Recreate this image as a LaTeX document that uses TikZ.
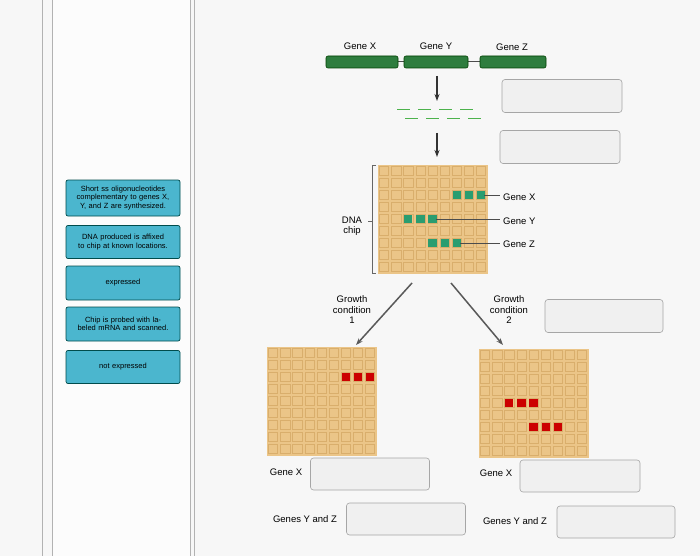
\documentclass[tikz,border=0pt]{standalone}
\usepackage{fontspec}
\setmainfont{Liberation Sans}
\usetikzlibrary{arrows.meta}
\definecolor{tilec}{HTML}{4BB6CE}
\definecolor{chipc}{HTML}{EBC588}
\definecolor{cellc}{HTML}{D9AE6C}
\definecolor{spotg}{HTML}{2A9D70}
\definecolor{genec}{HTML}{2E7D3E}
\newcommand{\mychip}[2]{%
  \fill[chipc] (#1,#2) rectangle ++(110,109);
  \foreach \i in {0,...,8}{\foreach \j in {0,...,8}{
    \draw[cellc,line width=0.6pt] ({#1+1.5+\i*12.1},{#2+1.5+\j*12.0}) rectangle ++(9.2,9.2);}}
}
\newcommand{\spot}[5]{\foreach \i in {0,1,2}{\fill[#5] ({#1+2+(#3+\i)*12.1},{#2+2+#4*12.0}) rectangle ++(8.2,8.2);}}
\begin{document}
\begin{tikzpicture}[x=1pt,y=-1pt,
  tb/.style={draw=teal!60!black,fill=tilec,rounded corners=2pt,line width=0.7pt,align=center,font=\fontsize{7.5}{8.5}\selectfont,text width=112pt,inner sep=1pt},
  gb/.style={draw=gray!70,fill=gray!12,rounded corners=3pt,line width=0.6pt},
  lab/.style={font=\fontsize{9.5}{10.5}\selectfont,align=center,inner sep=0pt},
  gene/.style={draw=green!25!black,fill=genec,line width=0.6pt,rounded corners=2pt},
  arr/.style={-{Stealth[length=7pt,width=5pt]},line width=1.5pt,draw=black!80}]
\fill[gray!6] (0,0) rectangle (700,556);
\useasboundingbox (0,0) rectangle (700,556);
\fill[gray!2] (52,0) rectangle (190,556);
\draw[gray!60] (42,0)--(42,556) (52,0)--(52,556) (190,0)--(190,556) (194,0)--(194,556);
% left tiles
\node[tb,minimum height=36pt] (t1) at (123,198) {Short ss oligonucleotides complementary to genes X, Y, and Z are synthesized.};
\node[tb,minimum height=33pt] (t2) at (123,242) {DNA produced is affixed to chip at known locations.};
\node[tb,minimum height=34pt] (t3) at (123,283) {expressed};
\node[tb,minimum height=34pt] (t4) at (123,324) {Chip is probed with labeled mRNA and scanned.};
\node[tb,minimum height=33pt] (t5) at (123,367) {not expressed};
% genes
\draw[black!70,line width=1pt] (396,62)--(406,62) (466,62)--(482,62);
\draw[gene] (326,56) rectangle (398,68);
\draw[gene] (404,56) rectangle (468,68);
\draw[gene] (480,56) rectangle (546,68);
\node[lab] (gx) at (360,46) {Gene X};
\node[lab] (gy) at (436,46) {Gene Y};
\node[lab] (gz) at (512,47) {Gene Z};
\coordinate (a1s) at (437,76); \coordinate (a1e) at (437,101);
\draw[arr] (a1s)--(a1e);
\draw[green!40!gray,line width=1pt,dash pattern=on 13pt off 8pt] (397,110)--(475,110);
\draw[green!40!gray,line width=1pt,dash pattern=on 13pt off 8pt] (405,119)--(483,119);
\coordinate (a2s) at (437,133); \coordinate (a2e) at (437,157);
\draw[arr] (a2s)--(a2e);
\node[gb,minimum width=120pt,minimum height=33pt] (b1) at (562,96) {};
\node[gb,minimum width=120pt,minimum height=33pt] (b2) at (560,147) {};
\mychip{378}{165}
\spot{378}{165}{6}{2}{spotg}
\spot{378}{165}{2}{4}{spotg}
\spot{378}{165}{4}{6}{spotg}
\draw[black!70] (484,195)--(500,195) (436,219)--(500,219) (460,243)--(500,243);
\node[lab,anchor=west] (cx) at (503,197) {Gene X};
\node[lab,anchor=west] (cy) at (503,221) {Gene Y};
\node[lab,anchor=west] (cz) at (503,244) {Gene Z};
\draw[black!60] (376,165)--(372,165)--(372,273)--(376,273) (372,221)--(368,221);
\node[lab] (dna) at (352,226) {DNA\\chip};
% growth
\coordinate (g1s) at (412,283); \coordinate (g1e) at (356,345);
\coordinate (g2s) at (451,283); \coordinate (g2e) at (503,345);
\draw[arr,draw=gray!70!black] (g1s)--(g1e);
\draw[arr,draw=gray!70!black] (g2s)--(g2e);
\node[lab] (gc1) at (352,310) {Growth\\condition\\1};
\node[lab] (gc2) at (509,310) {Growth\\condition\\2};
\node[gb,minimum width=118pt,minimum height=33pt] (b3) at (604,316) {};
\mychip{267}{347}
\spot{267}{347}{6}{2}{red!80!black}
\mychip{479}{349}
\spot{479}{349}{2}{4}{red!80!black}
\spot{479}{349}{4}{6}{red!80!black}
\node[lab] (lx1) at (286,472) {Gene X};
\node[lab] (lx2) at (496,473) {Gene X};
\node[lab] (ly1) at (305,519) {Genes Y and Z};
\node[lab] (ly2) at (515,521) {Genes Y and Z};
\node[gb,minimum width=119pt,minimum height=32pt] (b4) at (370,474) {};
\node[gb,minimum width=120pt,minimum height=32pt] (b5) at (580,476) {};
\node[gb,minimum width=119pt,minimum height=32pt] (b6) at (406,519) {};
\node[gb,minimum width=118pt,minimum height=32pt] (b7) at (616,522) {};
\end{tikzpicture}
\end{document}
